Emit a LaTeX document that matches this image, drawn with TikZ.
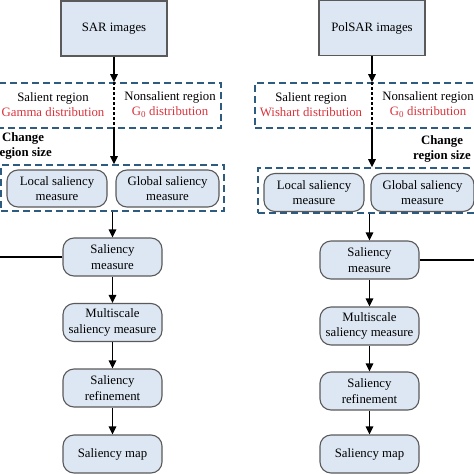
\documentclass[tikz,border=0pt]{standalone}
\usepackage{fontspec}
\setmainfont{Liberation Serif}
\usetikzlibrary{arrows.meta}
\definecolor{boxfill}{HTML}{DDE7F3}
\definecolor{boxline}{HTML}{5A5A5A}
\definecolor{dashblue}{HTML}{2E5B80}
\definecolor{redtxt}{HTML}{D8343C}
\begin{document}
\begin{tikzpicture}[x=1pt,y=-1pt,
  font=\fontsize{12.8}{15.5}\selectfont,
  sbox/.style={draw=boxline, line width=1.1pt, fill=boxfill, rounded corners=11pt, minimum width=99pt, minimum height=38pt, align=center, inner sep=1pt},
  lgbox/.style={sbox, minimum width=100pt, minimum height=37pt},
  ibox/.style={draw=boxline, line width=1.1pt, fill=boxfill, minimum width=106pt, minimum height=55pt},
  dbox/.style={draw=dashblue, line width=1.6pt, dash pattern=on 7pt off 4pt, inner sep=0pt},
  divline/.style={draw=black, line width=1.1pt, dash pattern=on 3pt off 2pt},
  arr/.style={draw=black, line width=1.6pt, -{Triangle[length=8pt,width=7.5pt]}},
  plain/.style={draw=black, line width=1.2pt},
  lbl/.style={align=center, inner sep=0pt},
  chg/.style={font=\fontsize{12.8}{15.5}\selectfont\bfseries, align=center, inner sep=0pt}
]
\useasboundingbox (0,0) rectangle (474,474);
\clip (0,0) rectangle (474,474);

% ---------- left column ----------
\node[ibox] (sar) at (114,28.5) {SAR images};
\node[dbox, minimum width=224pt, minimum height=45pt] (d1) at (109,105.5) {};
\draw[divline] (d1.north -| sar.south) -- (d1.south -| sar.south);
\node[lbl] (s1) at (53,104.5) {Salient region\\\textcolor{redtxt}{Gamma distribution}};
\node[lbl] (n1) at (170,104.5) {Nonsalient region\\\textcolor{redtxt}{G\textsubscript{0} distribution}};
\draw[arr] (sar.south) -- (sar.south |- d1.north);
\node[chg] (c1) at (23,146) {Change\\region size};
\node[dbox, minimum width=223pt, minimum height=46pt] (d2) at (112.5,188) {};
\node[lgbox] (loc1) at (57,188.5) {Local saliency\\measure};
\node[lgbox, minimum width=103pt] (glo1) at (167.5,188.5) {Global saliency\\measure};
\draw[arr] (sar.south |- d1.south) -- (sar.south |- d2.north);
\node[sbox] (sm1) at (112.5,257) {Saliency\\measure};
\node[sbox] (ms1) at (112.5,322.5) {Multiscale\\saliency measure};
\node[sbox] (sr1) at (112.5,388) {Saliency\\refinement};
\node[sbox] (mp1) at (112.5,454) {Saliency map};
\draw[arr] (sm1.north |- d2.south) -- (sm1.north);
\draw[arr] (sm1) -- (ms1);
\draw[arr] (ms1) -- (sr1);
\draw[arr] (sr1) -- (mp1);
\coordinate (L) at (-3,257);
\draw[plain] (sm1.west) -- (sm1.west -| L);

% ---------- right column ----------
\node[ibox] (pol) at (372,28) {PolSAR images};
\node[dbox, minimum width=235pt, minimum height=45pt] (d1r) at (372.5,105.5) {};
\draw[divline] (d1r.north -| pol.south) -- (d1r.south -| pol.south);
\node[lbl] (s2) at (311,104.5) {Salient region\\\textcolor{redtxt}{Wishart distribution}};
\node[lbl] (n2) at (428,104.5) {Nonsalient region\\\textcolor{redtxt}{G\textsubscript{0} distribution}};
\draw[arr] (pol.south) -- (pol.south |- d1r.north);
\node[chg] (c2) at (442,149) {Change\\region size};
\node[dbox, minimum width=232pt, minimum height=45pt] (d2r) at (374,190.5) {};
\node[lgbox, minimum height=38pt] (loc2) at (314,192.5) {Local saliency\\measure};
\node[lgbox, minimum width=103pt, minimum height=38pt] (glo2) at (422.5,192.5) {Global saliency\\measure};
\draw[arr] (pol.south |- d1r.south) -- (pol.south |- d2r.north);
\node[sbox] (sm2) at (369.5,260) {Saliency\\measure};
\node[sbox] (ms2) at (369.5,326) {Multiscale\\saliency measure};
\node[sbox] (sr2) at (369.5,391) {Saliency\\refinement};
\node[sbox] (mp2) at (369.5,454) {Saliency map};
\draw[arr] (sm2.north |- d2r.south) -- (sm2.north);
\draw[arr] (sm2) -- (ms2);
\draw[arr] (ms2) -- (sr2);
\draw[arr] (sr2) -- (mp2);
\coordinate (R) at (477,260);
\draw[plain] (sm2.east) -- (sm2.east -| R);
\end{tikzpicture}
\end{document}
